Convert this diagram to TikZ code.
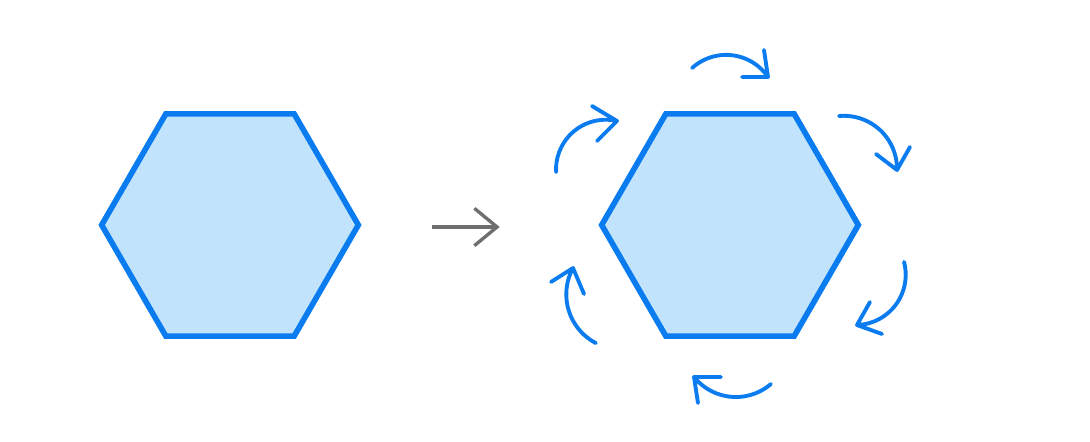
\documentclass[tikz,border=0pt]{standalone}
\usetikzlibrary{shapes.geometric,arrows.meta}
\definecolor{hexblue}{HTML}{0A7CF0}
\definecolor{hexfill}{HTML}{C2E3FC}
\definecolor{arrgray}{HTML}{6E6E6E}
\begin{document}
\begin{tikzpicture}[x=0.75pt,y=-0.75pt,
  hexa/.style={regular polygon, regular polygon sides=6, minimum size=192.5pt,
    inner sep=0pt, outer sep=0pt, draw=hexblue, fill=hexfill, line width=4.2pt, line join=miter},
  turn/.style={draw=hexblue, line width=2.9pt, line cap=round, line join=round},
  flow/.style={draw=arrgray, line width=2.5pt, -{Straight Barb[length=17pt,width=28pt]}}]
\useasboundingbox (0,0) rectangle (1090,442);
\node[hexa] (h1) at (230,225) {};
\node[hexa] (h2) at (730,225) {};
\draw[flow, shorten <=55pt, shorten >=76.5pt] ([yshift=-1.5pt]h1.east) -- ([yshift=-1.5pt]h2.west);
% curved arrows, clockwise around h2
\draw[turn] (764,50) -- (768,77) -- (742,77) (768,77) arc[start angle=-34.3, end angle=-132.2, radius=50.7];
\draw[turn] (910,147) -- (897,170) -- (876,154) (897,170) arc[start angle=1.1, end angle=-95.2, radius=53.2];
\draw[turn] (870,302) -- (857,325) -- (882,334) (857,325) arc[start angle=88.2, end angle=-14.8, radius=50.3];
\draw[turn] (721,377) -- (694,377) -- (698,403) (694,377) arc[start angle=141.1, end angle=49.3, radius=53.8];
\draw[turn] (551,282) -- (573,268) -- (584,294) (573,268) arc[start angle=-151.4, end angle=-242.5, radius=55];
\draw[turn] (592,106) -- (617,121) -- (597,141) (617,121) arc[start angle=-77, end angle=-182.9, radius=49.8];
\end{tikzpicture}
\end{document}
